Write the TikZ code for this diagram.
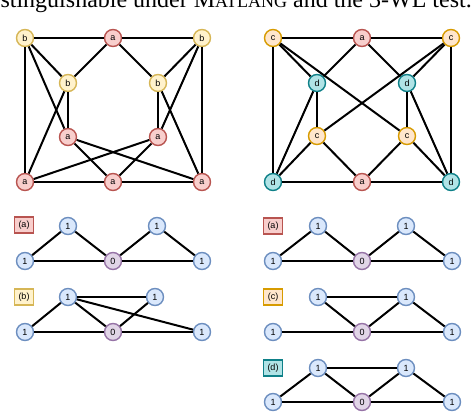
\documentclass[tikz,border=0pt]{standalone}
\usepackage{fontspec}
\setmainfont{Liberation Serif}
\setsansfont{Liberation Sans}
\definecolor{afill}{HTML}{F8CECC}\definecolor{aline}{HTML}{B85450}
\definecolor{bfill}{HTML}{FFF2CC}\definecolor{bline}{HTML}{D6B656}
\definecolor{cfill}{HTML}{FFE6CC}\definecolor{cline}{HTML}{D79B00}
\definecolor{dfill}{HTML}{B0E3E6}\definecolor{dline}{HTML}{0E8088}
\definecolor{onefill}{HTML}{DAE8FC}\definecolor{oneline}{HTML}{6C8EBF}
\definecolor{zerofill}{HTML}{E1D5E7}\definecolor{zeroline}{HTML}{9673A6}
\tikzset{
 vtx/.style={circle, line width=1.4pt, minimum size=17pt, inner sep=0pt,
  font=\sffamily\fontsize{9}{9}\selectfont},
 va/.style={vtx, draw=aline, fill=afill},
 vb/.style={vtx, draw=bline, fill=bfill},
 vc/.style={vtx, draw=cline, fill=cfill},
 vd/.style={vtx, draw=dline, fill=dfill},
 vone/.style={vtx, draw=oneline, fill=onefill},
 vzero/.style={vtx, draw=zeroline, fill=zerofill},
 tag/.style={rectangle, line width=1.4pt, minimum width=19pt, minimum height=16pt,
  inner sep=0pt, font=\sffamily\fontsize{9}{9}\selectfont},
 link/.style={line width=2pt, black},
}
\newcommand{\vertex}[4]{%
 \node[#4] ({#1}) at ({#2}) {#3};%
}

\begin{document}
\begin{tikzpicture}[x=1pt,y=-1pt]
  \useasboundingbox (0,0) rectangle (474,415);
  \node[anchor=base east, inner sep=0pt, font=\fontsize{24}{24}\selectfont] (caption) at (472,8)
   {stinguishable under M{\fontsize{18}{18}\selectfont ATLANG} and the 3-WL test.};
  % left graph
  \vertex{lbTL}{25,38}{b}{vb};
  \vertex{laT}{113,38}{a}{va};
  \vertex{lbTR}{202,38}{b}{vb};
  \vertex{lbIL}{68,83}{b}{vb};
  \vertex{lbIR}{158,83}{b}{vb};
  \vertex{laML}{68,137}{a}{va};
  \vertex{laMR}{158,137}{a}{va};
  \vertex{laBL}{25,182}{a}{va};
  \vertex{laB}{113,182}{a}{va};
  \vertex{laBR}{202,182}{a}{va};
  \foreach \s/\t in {lbTL/laT, laT/lbTR, lbTL/laBL, lbTR/laBR, laBL/laB, laB/laBR,
    laT/lbIL, laT/lbIR, lbTL/lbIL, lbTL/laML, lbTR/lbIR, lbTR/laMR, lbIL/laML,
    lbIR/laMR, lbIL/laBL, lbIR/laBR, laML/laB, laML/laBR, laMR/laB, laMR/laBL}
    \path[link] (\s) edge (\t);
  % right graph
  \vertex{rcTL}{273,38}{c}{vc};
  \vertex{raT}{362,38}{a}{va};
  \vertex{rcTR}{451,38}{c}{vc};
  \vertex{rdIL}{317,83}{d}{vd};
  \vertex{rdIR}{407,83}{d}{vd};
  \vertex{rcML}{317,136}{c}{vc};
  \vertex{rcMR}{407,136}{c}{vc};
  \vertex{rdBL}{273,182}{d}{vd};
  \vertex{raB}{362,182}{a}{va};
  \vertex{rdBR}{451,182}{d}{vd};
  \foreach \s/\t in {rcTL/raT, raT/rcTR, rcTL/rdBL, rcTR/rdBR, rdBL/raB, raB/rdBR,
    raT/rdIL, raT/rdIR, rcTL/rdIL, rcTL/rcMR, rcTR/rdIR, rcTR/rcML, rdIL/rcML,
    rdIR/rcMR, rdIL/rdBL, rdIR/rdBR, rcML/rdBL, rcML/raB, rcMR/raB, rcMR/rdBR}
    \path[link] (\s) edge (\t);
  % (a) left
  \node[tag, draw=aline, fill=afill] (tagpa) at (24,225) {(a)};
  \vertex{pa1}{68,226}{1}{vone};
  \vertex{pa2}{157,226}{1}{vone};
  \vertex{pa3}{25,261}{1}{vone};
  \vertex{pa0}{113,261}{0}{vzero};
  \vertex{pa4}{202,261}{1}{vone};
  \foreach \s/\t in {pa3/pa1, pa1/pa0, pa3/pa0, pa0/pa2, pa2/pa4, pa0/pa4}
    \path[link] (\s) edge (\t);
  % (b)
  \node[tag, draw=bline, fill=bfill] (tagpb) at (24,297) {(b)};
  \vertex{pb1}{68,297}{1}{vone};
  \vertex{pb2}{155,297}{1}{vone};
  \vertex{pb3}{25,332}{1}{vone};
  \vertex{pb0}{113,332}{0}{vzero};
  \vertex{pb4}{202,332}{1}{vone};
  \foreach \s/\t in {pb3/pb1, pb1/pb2, pb1/pb0, pb1/pb4, pb2/pb0, pb3/pb0, pb0/pb4}
    \path[link] (\s) edge (\t);
  % (a) right
  \node[tag, draw=aline, fill=afill] (tagqa) at (273,226) {(a)};
  \vertex{qa1}{318,226}{1}{vone};
  \vertex{qa2}{406,226}{1}{vone};
  \vertex{qa3}{273,261}{1}{vone};
  \vertex{qa0}{362,261}{0}{vzero};
  \vertex{qa4}{452,261}{1}{vone};
  \foreach \s/\t in {qa3/qa1, qa1/qa0, qa3/qa0, qa0/qa2, qa2/qa4, qa0/qa4}
    \path[link] (\s) edge (\t);
  % (c)
  \node[tag, draw=cline, fill=cfill] (tagqc) at (273,297) {(c)};
  \vertex{qc1}{318,297}{1}{vone};
  \vertex{qc2}{406,297}{1}{vone};
  \vertex{qc3}{273,332}{1}{vone};
  \vertex{qc0}{362,332}{0}{vzero};
  \vertex{qc4}{452,332}{1}{vone};
  \foreach \s/\t in {qc1/qc2, qc1/qc0, qc2/qc0, qc2/qc4, qc3/qc0, qc0/qc4}
    \path[link] (\s) edge (\t);
  % (d)
  \node[tag, draw=dline, fill=dfill] (tagqd) at (273,368) {(d)};
  \vertex{qd1}{318,368}{1}{vone};
  \vertex{qd2}{406,368}{1}{vone};
  \vertex{qd3}{273,402}{1}{vone};
  \vertex{qd0}{362,402}{0}{vzero};
  \vertex{qd4}{452,402}{1}{vone};
  \foreach \s/\t in {qd3/qd1, qd1/qd2, qd1/qd0, qd2/qd0, qd2/qd4, qd3/qd0, qd0/qd4}
    \path[link] (\s) edge (\t);
\end{tikzpicture}
\end{document}
